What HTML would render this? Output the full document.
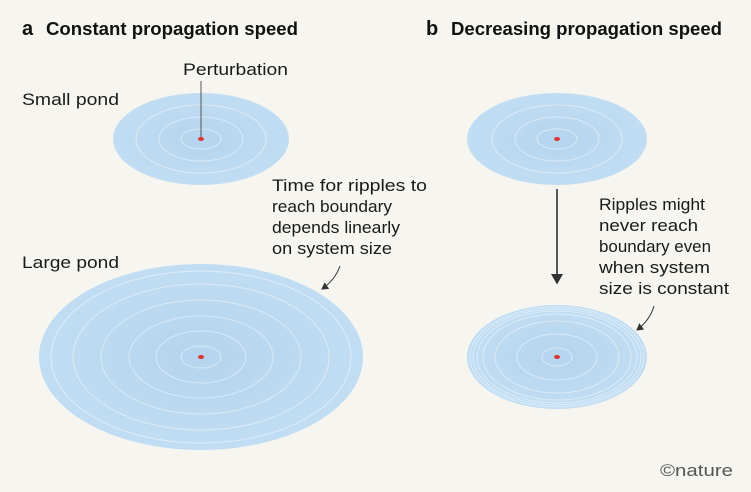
<!DOCTYPE html>
<html><head><style>body{margin:0;background:#f6f5ef}</style></head><body>
<svg width="751" height="487" xmlns="http://www.w3.org/2000/svg" font-family="Liberation Sans, sans-serif">
<defs>
<radialGradient id="g" cx="50%" cy="50%" r="50%">
<stop offset="0" stop-color="#b5d4ed"/><stop offset="1" stop-color="#c0ddf3"/>
</radialGradient>
<marker id="ah" markerWidth="8" markerHeight="8" refX="6" refY="4" orient="auto"><path d="M0,0 L7,4 L0,8 Z" fill="#333"/></marker>
</defs>
<rect width="751" height="487" fill="#f6f5ef"/>
<text x="22" y="35" font-size="20" font-weight="bold" fill="#111">a</text>
<text x="46" y="35" font-size="18" font-weight="bold" fill="#111" textLength="252" lengthAdjust="spacingAndGlyphs">Constant propagation speed</text>
<text x="426" y="35" font-size="20" font-weight="bold" fill="#111">b</text>
<text x="451" y="35" font-size="18" font-weight="bold" fill="#111" textLength="271" lengthAdjust="spacingAndGlyphs">Decreasing propagation speed</text>

<g fill="none" stroke="#fff" stroke-opacity="0.45" stroke-width="1">
<ellipse cx="201" cy="139" rx="88" ry="46" fill="url(#g)" stroke="none"/>
<ellipse cx="201" cy="139" rx="20" ry="10"/><ellipse cx="201" cy="139" rx="42" ry="22"/><ellipse cx="201" cy="139" rx="65" ry="34"/>
<ellipse cx="201" cy="357" rx="162" ry="93" fill="url(#g)" stroke="none"/>
<ellipse cx="201" cy="357" rx="20" ry="11"/><ellipse cx="201" cy="357" rx="45" ry="26"/><ellipse cx="201" cy="357" rx="72" ry="41"/><ellipse cx="201" cy="357" rx="100" ry="57"/><ellipse cx="201" cy="357" rx="128" ry="73"/><ellipse cx="201" cy="357" rx="150" ry="86"/>
<ellipse cx="557" cy="139" rx="90" ry="46" fill="url(#g)" stroke="none"/>
<ellipse cx="557" cy="139" rx="20" ry="10"/><ellipse cx="557" cy="139" rx="42" ry="22"/><ellipse cx="557" cy="139" rx="65" ry="34"/>
<ellipse cx="557" cy="357" rx="90" ry="52" fill="url(#g)" stroke="none"/>
<ellipse cx="557" cy="357" rx="15" ry="9"/><ellipse cx="557" cy="357" rx="40" ry="23"/><ellipse cx="557" cy="357" rx="62" ry="36"/><ellipse cx="557" cy="357" rx="74" ry="43"/><ellipse cx="557" cy="357" rx="80" ry="46"/><ellipse cx="557" cy="357" rx="84" ry="48"/><ellipse cx="557" cy="357" rx="87" ry="50"/>
</g>
<ellipse cx="201" cy="139" rx="3" ry="2" fill="#d33"/>
<ellipse cx="201" cy="357" rx="3" ry="2" fill="#d33"/>
<ellipse cx="557" cy="139" rx="3" ry="2" fill="#d33"/>
<ellipse cx="557" cy="357" rx="3" ry="2" fill="#d33"/>
<line x1="201" y1="81" x2="201" y2="137" stroke="#555" stroke-width="1"/>

<g font-size="17" fill="#1a1a1a">
<text x="183" y="75" textLength="105" lengthAdjust="spacingAndGlyphs">Perturbation</text>
<text x="22" y="105" textLength="97" lengthAdjust="spacingAndGlyphs">Small pond</text>
<text x="22" y="268" textLength="97" lengthAdjust="spacingAndGlyphs">Large pond</text>
<text x="272" y="191" textLength="155" lengthAdjust="spacingAndGlyphs">Time for ripples to</text>
<text x="272" y="212" textLength="120" lengthAdjust="spacingAndGlyphs">reach boundary</text>
<text x="272" y="233" textLength="128" lengthAdjust="spacingAndGlyphs">depends linearly</text>
<text x="272" y="254" textLength="120" lengthAdjust="spacingAndGlyphs">on system size</text>
<text x="599" y="210" textLength="106" lengthAdjust="spacingAndGlyphs">Ripples might</text>
<text x="599" y="231" textLength="99" lengthAdjust="spacingAndGlyphs">never reach</text>
<text x="599" y="252" textLength="112" lengthAdjust="spacingAndGlyphs">boundary even</text>
<text x="599" y="273" textLength="111" lengthAdjust="spacingAndGlyphs">when system</text>
<text x="599" y="294" textLength="130" lengthAdjust="spacingAndGlyphs">size is constant</text>
</g>
<path d="M340,266 Q335,280 322,289" fill="none" stroke="#333" stroke-width="1" marker-end="url(#ah)"/>
<path d="M654,306 Q650,320 637,330" fill="none" stroke="#333" stroke-width="1" marker-end="url(#ah)"/>
<line x1="557" y1="189" x2="557" y2="283" stroke="#222" stroke-width="1.5" marker-end="url(#ah)"/>
<text x="660" y="476" font-size="17" fill="#555" textLength="73" lengthAdjust="spacingAndGlyphs">©nature</text>
</svg>
</body></html>
